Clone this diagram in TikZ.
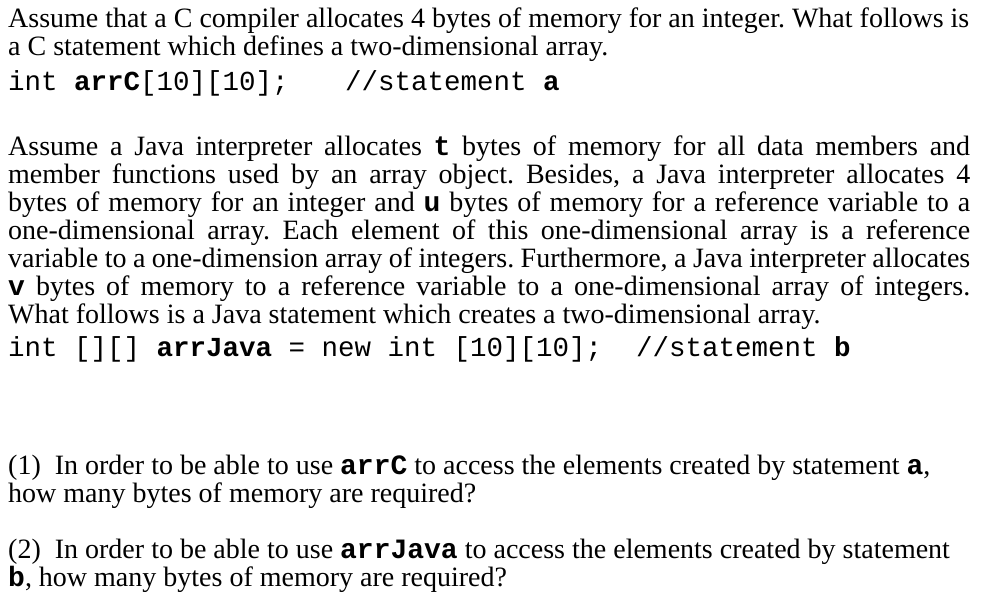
\documentclass[tikz,border=0pt]{standalone}
\usepackage{fontspec}
\setmainfont{Liberation Serif}
\setmonofont{Liberation Mono}
\frenchspacing
\begin{document}
\begin{tikzpicture}[x=1pt,y=-1pt]
\tikzstyle{every node}+=[inner sep=0pt,anchor=base west]
\tikzset{txt/.style={font=\fontsize{28}{28}\selectfont},
  code/.style={font=\fontsize{27.5}{28}\selectfont\ttfamily}}
\newcommand{\jl}[1]{\makebox[962pt][s]{#1}}
\useasboundingbox (0,0) rectangle (994,610);
% statement a
\node[txt] (l1) at (8,28) {Assume that a C compiler allocates 4 bytes of memory for an integer. What follows is};
\node[txt] (l2) at (8,56) {a C statement which defines a two-dimensional array.};
\node[code] (ca) at (8,91) {int \textbf{arrC}[10][10];};
\node[code] (cac) at (345,91) {//statement \textbf{a}};
% statement b
\node[txt] (p1) at (8,155) {\jl{Assume a Java interpreter allocates {\ttfamily\bfseries t} bytes of memory for all data members and}};
\node[txt] (p2) at (8,183) {\jl{member functions used by an array object. Besides, a Java interpreter allocates 4}};
\node[txt] (p3) at (8,211) {\jl{bytes of memory for an integer and {\ttfamily\bfseries u} bytes of memory for a reference variable to a}};
\node[txt] (p4) at (8,239) {\jl{one-dimensional array. Each element of this one-dimensional array is a reference}};
\node[txt] (p5) at (8,267) {\jl{variable to a one-dimension array of integers. Furthermore, a Java interpreter allocates}};
\node[txt] (p6) at (8,295) {\jl{{\ttfamily\bfseries v} bytes of memory to a reference variable to a one-dimensional array of integers.}};
\node[txt] (p7) at (8,323) {What follows is a Java statement which creates a two-dimensional array.};
\node[code] (cb) at (8,356) {int [][] \textbf{arrJava} = new int [10][10];};
\node[code] (cbc) at (636,356) {//statement \textbf{b}};
% questions
\node[txt] (q1) at (8,474) {(1)\hspace{14pt}In order to be able to use {\ttfamily\bfseries arrC} to access the elements created by statement {\ttfamily\bfseries a},};
\node[txt] (q1b) at (8,502) {how many bytes of memory are required?};
\node[txt] (q2) at (8,558) {(2)\hspace{14pt}In order to be able to use {\ttfamily\bfseries arrJava} to access the elements created by statement};
\node[txt] (q2b) at (8,586) {{\ttfamily\bfseries b}, how many bytes of memory are required?};
\end{tikzpicture}
\end{document}
